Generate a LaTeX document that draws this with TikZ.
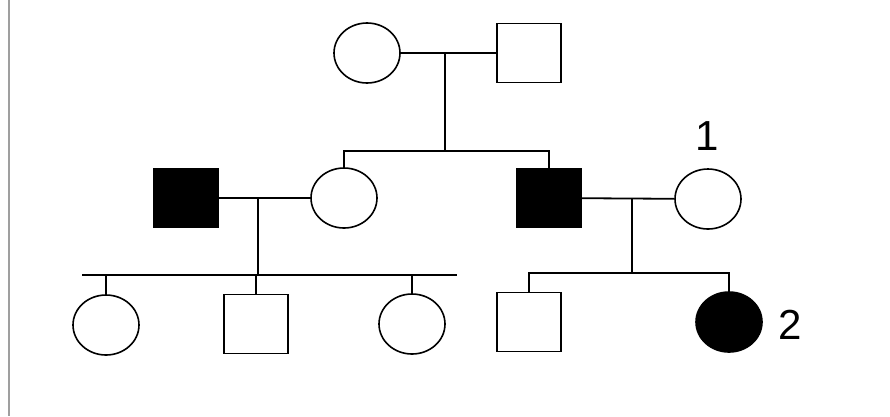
\documentclass[tikz,border=0pt]{standalone}
\usepackage{fontspec}
\setmainfont{Liberation Sans}
\usetikzlibrary{shapes.geometric}

\begin{document}
\begin{tikzpicture}[x=1pt, y=-1pt]
  \tikzstyle{line}=[draw, line width=1.8pt]
  \tikzstyle{female} = [ellipse, minimum width=66pt, minimum height=60pt, inner sep=0pt, draw=black, line width=1.6pt, fill=white]
  \tikzstyle{male} = [rectangle, minimum width=64pt, minimum height=59pt, inner sep=0pt, draw=black, line width=1.6pt, fill=white]
  \tikzstyle{affected} = [fill=black]
  \tikzstyle{number} = [font=\fontsize{42}{50}\selectfont, inner sep=0pt]

  \useasboundingbox (0,0) rectangle (890,416);
  \draw [gray!75, line width=2.2pt] (9,0) -- (9,416);

  % generation I
  \node (gma) [female] at (367,53) {};
  \node (gpa) [male] at (529,53) {};
  \coordinate (mar1) at (445,53);
  \coordinate (sib1) at (445,151);

  % generation II
  \node (uncle) [male, affected] at (186,198) {};
  \node (aunt) [female] at (344,198) {};
  \node (dad) [male, affected] at (549,198) {};
  \node (mum) [female] at (708,199) {};
  \node (one) [number] at (707,136) {1};
  \coordinate (mar2) at (258,198);
  \coordinate (sib2) at (258,275);
  \coordinate (sib2l) at (82,275);
  \coordinate (sib2r) at (457,275);
  \coordinate (mar3) at (632,198);
  \coordinate (sib3) at (632,273);

  % generation III
  \node (cousa) [female] at (106,325) {};
  \node (cousb) [male] at (256,324) {};
  \node (cousc) [female] at (412,324) {};
  \node (son) [male] at (529,322) {};
  \node (girl) [female, affected] at (729,322) {};
  \node (two) [number] at (790,325) {2};

  \draw [line] (gma) -- (gpa);
  \draw [line] (mar1) -- (sib1);
  \draw [line] (aunt.north) |- (sib1) -| (dad.north);

  \draw [line] (uncle) -- (aunt);
  \draw [line] (mar2) -- (sib2);
  \draw [line] (sib2l) -- (sib2r);
  \draw [line] (cousa.north) -- (cousa.north |- sib2);
  \draw [line] (cousb.north) -- (cousb.north |- sib2);
  \draw [line] (cousc.north) -- (cousc.north |- sib2);

  \draw [line] (dad) -- (mum);
  \draw [line] (mar3) -- (sib3);
  \draw [line] (son.north) |- (sib3) -| (girl.north);

\end{tikzpicture}
\end{document}
